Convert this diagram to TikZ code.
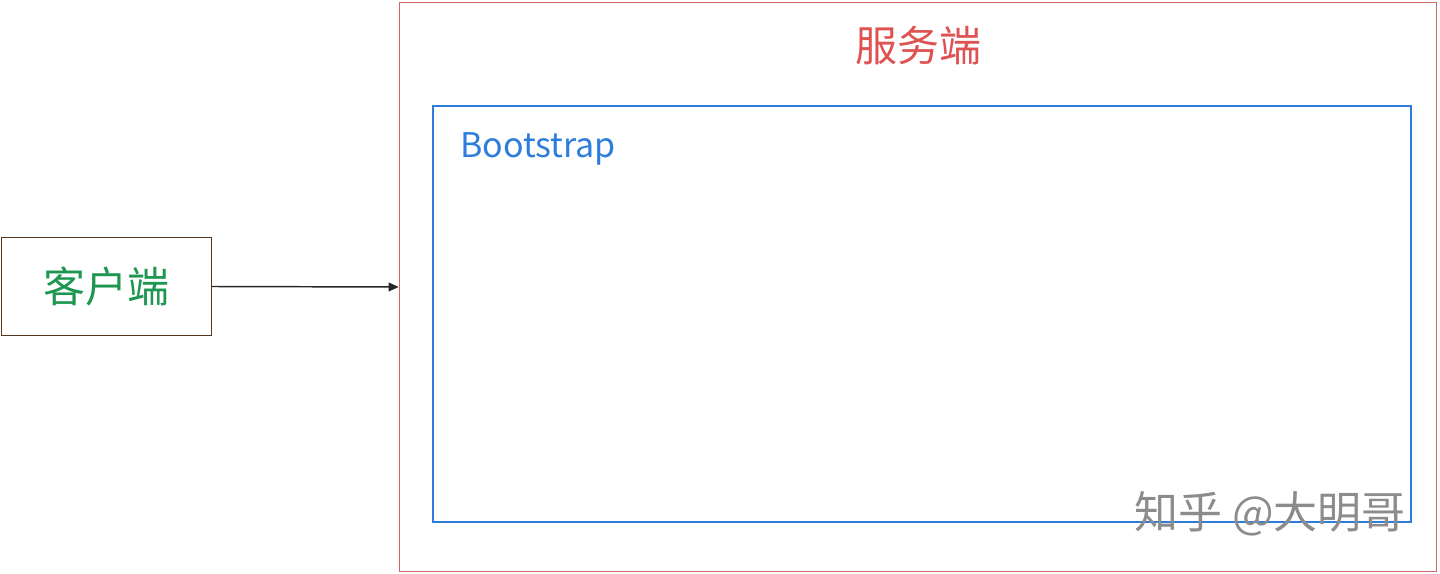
\documentclass[tikz,border=0pt]{standalone}
\usepackage{fontspec}
\setmainfont{Noto Sans CJK SC}
\usepackage{tikz}
\usetikzlibrary{arrows.meta}

\definecolor{clientgreen}{RGB}{30,150,80}
\definecolor{serverred}{RGB}{222,82,82}
\definecolor{frameblue}{RGB}{45,125,220}
\definecolor{boxbrown}{RGB}{85,55,30}

\begin{document}
\begin{tikzpicture}[x=0.75pt,y=0.75pt,yscale=-1,xscale=1]
\useasboundingbox (0,0) rectangle (1440,574);

% Client box
\node (client) [draw=boxbrown, line width=1.1pt, minimum width=157.5pt, minimum height=73.5pt, font=\fontsize{31.5}{36}\selectfont, text=clientgreen] at (106.5,286.5) {客户端};

% Server frame
\node (server) [draw=serverred!90!black!85!white, line width=1.2pt, minimum width=777.75pt, minimum height=427pt] at (918,287) {};
\draw (918,46) node (servertitle) [font=\fontsize{31.5}{36}\selectfont, text=serverred] {服务端};

% Bootstrap frame
\node (bootstrap) [draw=frameblue, line width=1pt, minimum width=733.5pt, minimum height=312pt] at (922,314) {};
\draw (538,149) node (bootlabel) [font=\fontsize{25.5}{28}\selectfont, text=frameblue] {Bootstrap};

% Arrow
\draw [-{Triangle[length=7.5pt,width=6.5pt]}, line width=1.1pt, black!85] (client.east) -- (server.west);

% Watermark
\draw (1270,514) node (mark) [font=\fontsize{33}{36}\selectfont, text=black!45] {知乎 @大明哥};

\end{tikzpicture}
\end{document}
